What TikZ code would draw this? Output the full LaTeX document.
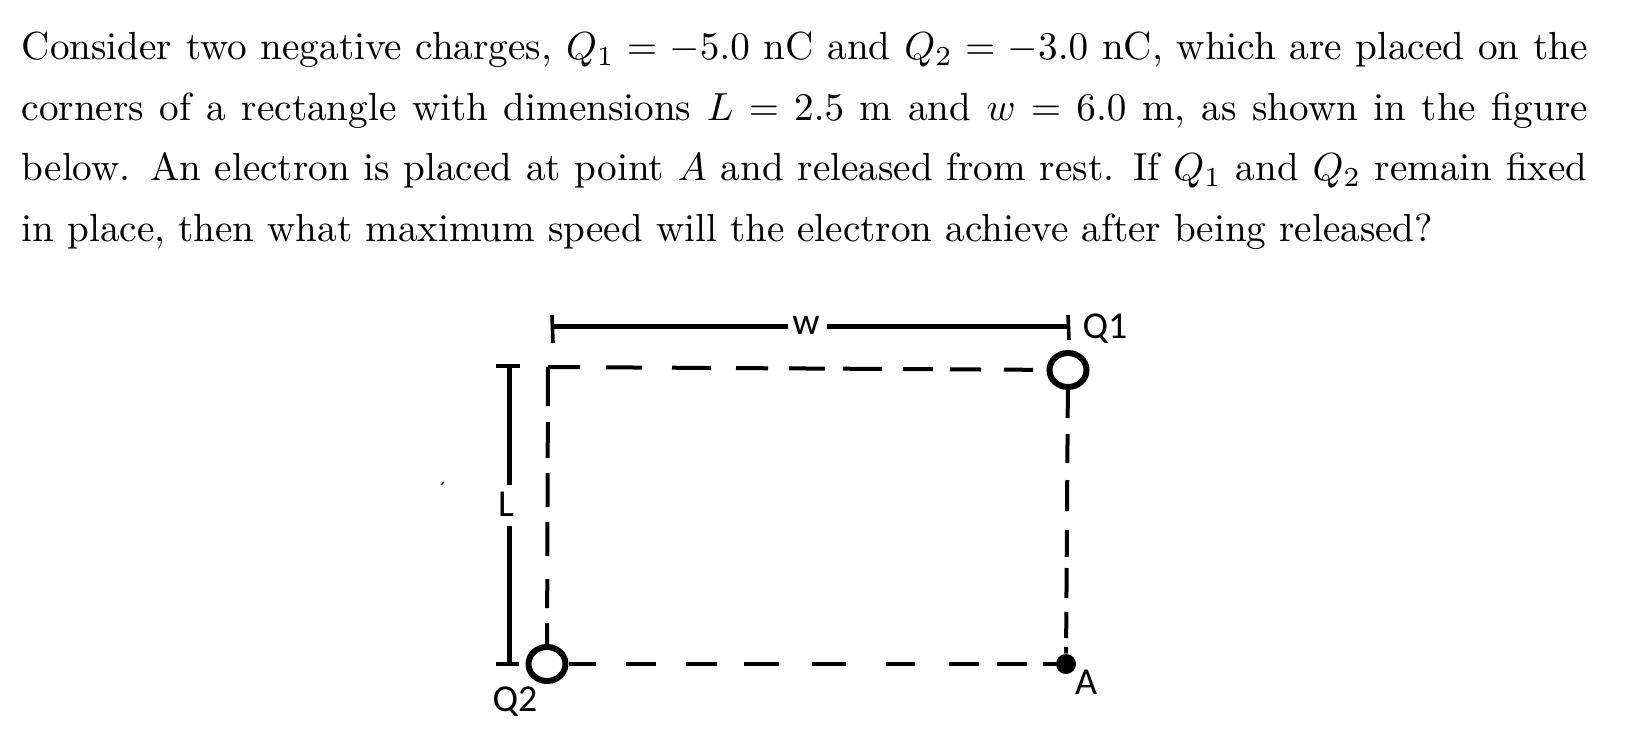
\documentclass[tikz,border=0pt]{standalone}
\usepackage[no-math]{fontspec}
\usetikzlibrary{shapes.geometric}
\newfontfamily\handfont{Carlito}

\begin{document}
\begin{tikzpicture}[x=0.5pt,y=-0.5pt]

                \tikzset{prose/.style = {anchor=north west,inner sep=0pt,scale=1.958,text width=399.9pt,align=justify,font=\fontsize{10pt}{15.45pt}\selectfont}}
                \tikzset{charge/.style = {shape=ellipse,draw,fill=white,line width=3pt,inner sep=0pt,minimum width=18.5pt,minimum height=17pt}}
                \tikzset{electron/.style = {shape=circle,fill=black,inner sep=0pt,minimum size=10pt}}
                \tikzset{hand/.style = {inner sep=0pt,font=\handfont\fontsize{19pt}{19pt}\selectfont}}
                \tikzset{bar/.style = {line width=2.5pt}}
                \tikzset{tick/.style = {line width=1.8pt}}
                \tikzset{edge/.style = {line width=2pt}}

                \useasboundingbox (0,0) rectangle (1645,735);

                \node[prose] (problem) at (21,31.5) {Consider two negative charges, $Q_1=-5.0$ nC and $Q_2=-3.0$ nC, which are placed on the\linebreak corners of a rectangle with dimensions $L=2.5$ m and $w=6.0$ m, as shown in the figure\linebreak below. An electron is placed at point $A$ and released from rest. If $Q_1$ and $Q_2$ remain fixed\linebreak in place, then what maximum speed will the electron achieve after being released?};

                \coordinate (corner) at (548,367);
                \node[charge] (Q1) at (1068,370) {};
                \node[charge] (Q2) at (547,664) {};
                \node[electron] (A) at (1066,664) {};

                \draw[edge,dash pattern=on 16pt off 13pt on 18pt off 15pt on 19.5pt off 12.5pt on 16pt off 10.5pt on 18pt off 9pt on 19.5pt off 10.5pt on 15pt off 8.5pt on 15.5pt off 11.5pt on 14.5pt off 40pt] (corner) -- (Q1);
                \draw[edge,dash pattern=on 19.5pt off 8pt on 18pt off 7.5pt on 17pt off 7.5pt on 17pt off 11.5pt on 14.5pt off 7.5pt on 20pt off 40pt] (corner) -- (Q2);
                \draw[edge,dash pattern=on 13.5pt off 15pt on 15pt off 15pt on 15.5pt off 13.5pt on 17.5pt off 16.5pt on 17pt off 20pt on 14.5pt off 17pt on 15pt off 9pt on 15pt off 8pt on 20pt off 40pt] (Q2) -- (A);
                \draw[edge,dash pattern=on 14pt off 8pt on 14.5pt off 8.5pt on 15.5pt off 9.5pt on 13.5pt off 5.5pt on 15pt off 7pt on 13pt off 4.5pt on 20pt off 40pt] (Q1) -- (A);

                \node[hand] (w) at (806,325) {w};
                \node[hand] (L) at (506,504) {L};
                \node[hand] (labelQ1) at (1105,329) {Q1};
                \node[hand] (labelQ2) at (515,702) {Q2};
                \node[hand] (labelA) at (1086,682) {A};

                \coordinate (wleft) at (552,326);
                \coordinate (wright) at (1068,326);
                \coordinate (Ltop) at (509,366);
                \coordinate (Lbottom) at (509,664);

                \draw[bar] (wleft) -- (788,326);
                \draw[bar] (827,326) -- (wright);
                \draw[bar] (Ltop) -- (509,485);
                \draw[bar] (509,526) -- (Lbottom);

                \draw[tick] (552,315) -- (553,343);
                \draw[tick] (1068,315) -- (1069,340);
                \draw[tick] (496,366) -- (520,366);
                \draw[tick] (496,664) -- (519,664);

                \draw[line width=0.6pt] (441,485) -- (444,482);
            \end{tikzpicture}
\end{document}
